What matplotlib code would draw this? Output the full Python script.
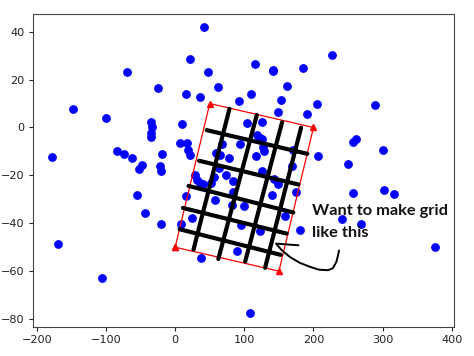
import matplotlib
matplotlib.use('Agg')
import matplotlib.pyplot as plt

# scattered points
x = [42.2, 21.5, -70, 47.5, -25.2, 62.4, 15.3, 36.5, -148, -100.3,
     115, 142, 142, 184.4, 227.2, 110.1, 92.3, 153, 162.3, 149.2,
     191, 204.5, 289.3, 9.9, -35.3, -32.9, -34.8, -35.3, 103.9, 126,
     -178.4, -83.5, -73.3, -62.3, -48.3, -51.6, -18.8, -21.8, -20.3, 7.1,
     16.7, 19.1, 22, -55.5, -43.9, -20.8, -169.2, -105.2, 107.7, 37.4,
     90.1, 24.9, 8.5, 15.8, 28.7, 31.1, 35.9, 40.7, 51.3, 57.1,
     56.6, 73.5, 84.1, 67.3, 58.6, 64.4, 63.4, 77.9, 93.8, 117.8,
     122.1, 125, 126.9, 128.9, 117.3, 125.5, 142.8, 148.6, 140.4, 84.1,
     82.7, 100, 94.7, 123.1, 159.2, 174.1, 168.8, 170.7, 180.9, 207.0,
     240.7, 269.2, 250.4, 257.1, 261.5, 257.6, 300.9, 301.9, 316.8, 375.5]
y = [41.8, 28.6, 23.0, 23.0, 16.3, 17.0, 14.1, 12.7, 7.7, 3.8,
     26.6, 24.2, 23.4, 24.7, 30.4, 14.1, 11.0, 11.3, 17.3, 6.3,
     5.8, 9.7, 9.5, 1.3, 2.1, 0.3, -2.5, -3.9, 1.9, 2.1,
     -12.5, -9.7, -11.1, -12.8, -15.6, -17.3, -11.1, -15.9, -18.0, -6.4,
     -6.3, -9.5, -11.6, -28.4, -35.9, -40.5, -48.5, -63.0, -77.4, -54.5,
     -51.5, -37.9, -40.1, -28.7, -19.9, -22.0, -23.3, -23.8, -23.1, -30.4,
     -20.6, -19.8, -22.4, -7.1, -10.6, -11.3, -17.1, -12.8, -6.8, -3.3,
     -4.2, -5.0, -8.2, -9.9, -11.7, -18.1, -21.4, -23.4, -28.1, -27.0,
     -32.3, -32.7, -40.7, -43.3, -37.0, -27.0, -16.0, -9.5, -43.0, -11.8,
     -38.4, -40.3, -15.3, -6.1, -5.0, -27.2, -9.3, -26.2, -27.9, -50.1]

# red box corners
box_x = [0, 150, 200, 50, 0]
box_y = [-50, -60, 0, 10, -50]

# hand drawn grid strokes (start, end)
vert_lines = [((78.5, 7.8), (26.5, -51.0)),
              ((118, 5.2), (62.4, -54.9)),
              ((154.6, 2.2), (101.2, -56.0)),
              ((182, -0.1), (130, -58.6))]
horiz_lines = [((45.6, -1.1), (191.1, -11.0)),
               ((34.6, -13.9), (178.1, -23.8)),
               ((19.3, -24.4), (170.8, -35.5)),
               ((11.2, -33.6), (161.2, -44.3)),
               ((6.4, -42.5), (152.5, -53.2))]

# hand drawn arrow
arrow_x = [236.8, 235.4, 233, 228, 221, 208, 195, 180, 166, 154, 145.8, 178]
arrow_y = [-51.5, -53.5, -56.2, -58.8, -59.6, -59.4, -58.2, -56.5, -54.1, -51.2, -48.5, -49.2]

plt.rcParams['font.size'] = 8.1
plt.rcParams['axes.linewidth'] = 0.8

fig = plt.figure(figsize=(4.74, 3.56), dpi=100)
ax = fig.add_axes([0.069, 0.0823, 0.889, 0.8784])

ax.plot(x, y, 'bo', markersize=5.3, zorder=2)
ax.plot(box_x, box_y, 'r^-', linewidth=0.9, markersize=4.8, zorder=3)
for (x0, y0), (x1, y1) in vert_lines + horiz_lines:
    ax.plot([x0, x1], [y0, y1], color='black', linewidth=3.0,
            solid_capstyle='round', zorder=4)
ax.plot(arrow_x, arrow_y, color='black', linewidth=1.4, zorder=4,
        solid_joinstyle='round')

ax.text(197.4, -34.8, 'Want to make grid', fontsize=11.8, fontweight='bold',
        family='Lato', va='center', color='#111111')
ax.text(197.4, -43.9, 'like this', fontsize=11.8, fontweight='bold',
        family='Lato', va='center', color='#111111')

ax.set_xlim(-206, 403.3)
ax.set_ylim(-83.2, 47.4)
ax.set_xticks([-200, -100, 0, 100, 200, 300, 400])
ax.set_yticks([40, 20, 0, -20, -40, -60, -80])
ax.tick_params(length=2.6, width=0.8, pad=3.5, colors='#222222')
for s in ax.spines.values():
    s.set_color('#444444')

fig.savefig('out.png', dpi=100)
